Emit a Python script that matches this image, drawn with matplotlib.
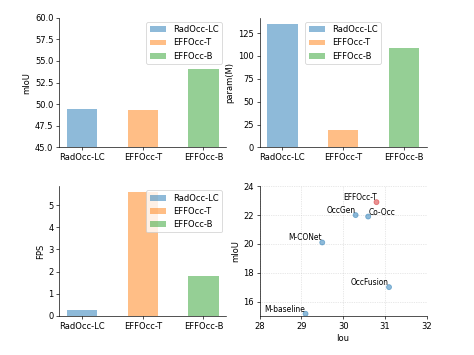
import numpy as np
import matplotlib
matplotlib.use("Agg")
import matplotlib.pyplot as plt

models = ['RadOcc-LC', 'EFFOcc-T', 'EFFOcc-B']
bar_colors = ['tab:blue', 'tab:orange', 'tab:green']
miou = [49.4, 49.3, 54.1]
params = [135, 18.5, 108.2]
fps = [0.29, 5.57, 1.78]

sc_names = ['EFFOcc-T', 'OccGen', 'Co-Occ', 'M-CONet', 'OccFusion', 'M-baseline']
sc_iou = [30.8, 30.3, 30.6, 29.5, 31.1, 29.1]
sc_miou = [22.9, 22.0, 21.9, 20.1, 17.0, 15.15]
sc_ha = ['right', 'right', 'left', 'right', 'right', 'right']

dpi = 60
fig, axes = plt.subplots(2, 2, figsize=(474 / dpi, 355 / dpi), dpi=dpi)
fig.subplots_adjust(top=0.95, bottom=0.11, hspace=0.3, wspace=0.2)


def bars(ax, vals, ylabel, loc, ticks, ylim=None):
    for m, v, c in zip(models, vals, bar_colors):
        ax.bar(m, v, color=c, alpha=0.5, width=0.5, label=m)
    ax.set_ylabel(ylabel)
    if ylim:
        ax.set_ylim(*ylim)
    ax.set_yticks(ticks)
    ax.legend(loc=loc)
    ax.spines['top'].set_visible(False)
    ax.spines['right'].set_visible(False)


bars(axes[0, 0], miou, 'mIoU', 'upper right', np.arange(45, 60.1, 2.5), (45, 60))
bars(axes[0, 1], params, 'param(M)', 'upper center', [0, 25, 50, 75, 100, 125])
bars(axes[1, 0], fps, 'FPS', 'upper right', [0, 1, 2, 3, 4, 5])

ax = axes[1, 1]
cols = ['tab:red' if n == 'EFFOcc-T' else 'tab:blue' for n in sc_names]
ax.scatter(sc_iou, sc_miou, c=cols, alpha=0.5, zorder=3)
for n, x, y, ha in zip(sc_names, sc_iou, sc_miou, sc_ha):
    ax.text(x, y, n, ha=ha, va='bottom', fontsize=9)
ax.set_xlim(28, 32)
ax.set_ylim(15, 24)
ax.set_xticks([28, 29, 30, 31, 32])
ax.set_yticks([16, 18, 20, 22, 24])
ax.set_xlabel('Iou')
ax.set_ylabel('mIoU')
ax.grid(True, linestyle=':', alpha=0.6)
ax.spines['top'].set_visible(False)
ax.spines['right'].set_visible(False)

fig.savefig('out.png')
